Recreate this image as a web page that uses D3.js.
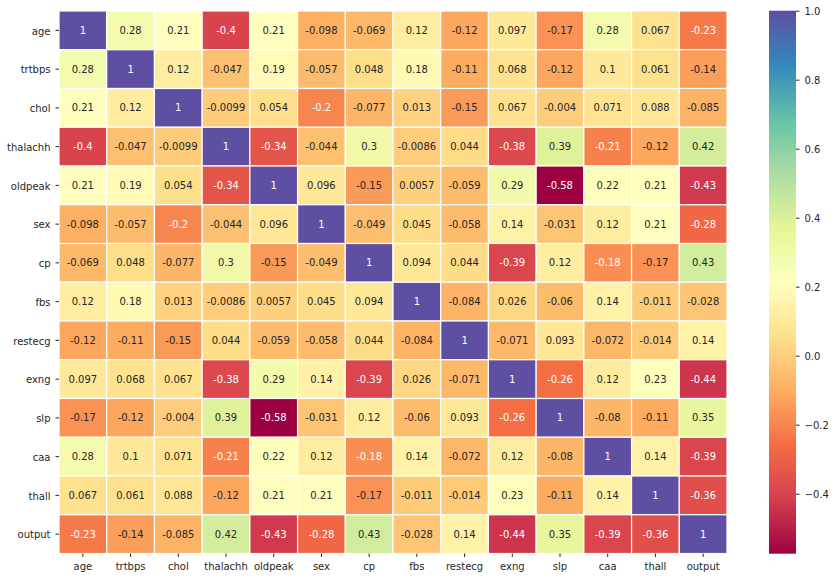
<!DOCTYPE html>
<html>
<head>
<meta charset="utf-8">
<script src="https://cdn.jsdelivr.net/npm/d3@7"></script>
<style>
  html, body { margin: 0; padding: 0; background: #fff; }
  svg { display: block; }
  text { font-family: "DejaVu Sans", sans-serif; font-size: 10px; }
</style>
</head>
<body>
<div id="vis-container"></div>
<script>
/* CHART */

const labels = ["age", "trtbps", "chol", "thalachh", "oldpeak", "sex", "cp", "fbs", "restecg", "exng", "slp", "caa", "thall", "output"];

const age      = [1, 0.28, 0.21, -0.4, 0.21, -0.098, -0.069, 0.12, -0.12, 0.097, -0.17, 0.28, 0.067, -0.23];
const trtbps   = [0.28, 1, 0.12, -0.047, 0.19, -0.057, 0.048, 0.18, -0.11, 0.068, -0.12, 0.1, 0.061, -0.14];
const chol     = [0.21, 0.12, 1, -0.0099, 0.054, -0.2, -0.077, 0.013, -0.15, 0.067, -0.004, 0.071, 0.088, -0.085];
const thalachh = [-0.4, -0.047, -0.0099, 1, -0.34, -0.044, 0.3, -0.0086, 0.044, -0.38, 0.39, -0.21, -0.12, 0.42];
const oldpeak  = [0.21, 0.19, 0.054, -0.34, 1, 0.096, -0.15, 0.0057, -0.059, 0.29, -0.58, 0.22, 0.21, -0.43];
const sex      = [-0.098, -0.057, -0.2, -0.044, 0.096, 1, -0.049, 0.045, -0.058, 0.14, -0.031, 0.12, 0.21, -0.28];
const cp       = [-0.069, 0.048, -0.077, 0.3, -0.15, -0.049, 1, 0.094, 0.044, -0.39, 0.12, -0.18, -0.17, 0.43];
const fbs      = [0.12, 0.18, 0.013, -0.0086, 0.0057, 0.045, 0.094, 1, -0.084, 0.026, -0.06, 0.14, -0.011, -0.028];
const restecg  = [-0.12, -0.11, -0.15, 0.044, -0.059, -0.058, 0.044, -0.084, 1, -0.071, 0.093, -0.072, -0.014, 0.14];
const exng     = [0.097, 0.068, 0.067, -0.38, 0.29, 0.14, -0.39, 0.026, -0.071, 1, -0.26, 0.12, 0.23, -0.44];
const slp      = [-0.17, -0.12, -0.004, 0.39, -0.58, -0.031, 0.12, -0.06, 0.093, -0.26, 1, -0.08, -0.11, 0.35];
const caa      = [0.28, 0.1, 0.071, -0.21, 0.22, 0.12, -0.18, 0.14, -0.072, 0.12, -0.08, 1, 0.14, -0.39];
const thall    = [0.067, 0.061, 0.088, -0.12, 0.21, 0.21, -0.17, -0.011, -0.014, 0.23, -0.11, 0.14, 1, -0.36];
const output   = [-0.23, -0.14, -0.085, 0.42, -0.43, -0.28, 0.43, -0.028, 0.14, -0.44, 0.35, -0.39, -0.36, 1];

const rows = [age, trtbps, chol, thalachh, oldpeak, sex, cp, fbs, restecg, exng, slp, caa, thall, output];

const colorTicks = [-0.4, -0.2, 0, 0.2, 0.4, 0.6, 0.8, 1];
const colorMin = -0.574;
const colorMax = 1;

const width = 835,
	height = 578,
	left = 59,
	right = 727,
	top_ = 11,
	bottom = 553.5,
	barLeft = 769,
	barRight = 796,
	textColor = "#262626";

// same stops as matplotlib's Spectral
const spectral = d3.piecewise(d3.interpolateRgb, d3.schemeSpectral[11]);
const color = d3.scaleSequential(spectral).domain([colorMin, colorMax]);

const x = d3.scaleBand().domain(labels).range([left, right]);
const y = d3.scaleBand().domain(labels).range([top_, bottom]);
const barY = d3.scaleLinear().domain([colorMin, colorMax]).range([553.7, 10.7]);

// seaborn's rule for picking the annotation colour
const luminance = (c) => {
	const rgb = d3.rgb(c);
	const f = (v) => {
		v = v / 255;
		return v <= 0.03928 ? v / 12.92 : Math.pow((v + 0.055) / 1.055, 2.4);
	};
	return 0.2126 * f(rgb.r) + 0.7152 * f(rgb.g) + 0.0722 * f(rgb.b);
};

let svg = d3.select("#vis-container")
	.append("svg")
	.attr("width", width)
	.attr("height", height);

let cells = rows.flatMap((row, i) => row.map((v, j) => ({ rowName: labels[i], colName: labels[j], value: v })));

svg.append("g").selectAll("rect")
	.data(cells)
	.join("rect")
	.attr("x", d => x(d.colName))
	.attr("y", d => y(d.rowName))
	.attr("width", x.bandwidth())
	.attr("height", y.bandwidth())
	.attr("fill", d => color(d.value))
	.attr("stroke", "#fff")
	.attr("stroke-width", 1.2);

svg.append("g").selectAll("text")
	.data(cells)
	.join("text")
	.attr("x", d => x(d.colName) + x.bandwidth() / 2)
	.attr("y", d => y(d.rowName) + y.bandwidth() / 2)
	.attr("dy", "0.35em")
	.attr("text-anchor", "middle")
	.attr("fill", d => luminance(color(d.value)) < 0.408 ? "#fff" : textColor)
	.text(d => String(d.value));

const styleAxis = (g) => {
	g.select(".domain").remove();
	g.selectAll("line").attr("stroke", textColor).attr("stroke-width", 1);
	g.selectAll("text").attr("fill", textColor);
};

svg.append("g")
	.attr("transform", `translate(0,${bottom})`)
	.call(d3.axisBottom(x).tickSize(3.5).tickPadding(6))
	.call(styleAxis);

svg.append("g")
	.attr("transform", `translate(${left},0)`)
	.call(d3.axisLeft(y).tickSize(3.5).tickPadding(5))
	.call(styleAxis)
	.selectAll("text").attr("dy", "0.42em");

// colorbar
let gradient = svg.append("defs").append("linearGradient")
	.attr("id", "bar-gradient")
	.attr("x1", 0).attr("y1", 1)
	.attr("x2", 0).attr("y2", 0);

gradient.selectAll("stop")
	.data(d3.schemeSpectral[11])
	.join("stop")
	.attr("offset", (d, i) => i / 10)
	.attr("stop-color", d => d);

svg.append("rect")
	.attr("x", barLeft)
	.attr("y", barY(colorMax))
	.attr("width", barRight - barLeft)
	.attr("height", barY(colorMin) - barY(colorMax))
	.attr("fill", "url(#bar-gradient)");

svg.append("g")
	.attr("transform", `translate(${barRight},0)`)
	.call(d3.axisRight(barY).tickValues(colorTicks).tickFormat(d => d3.format(".1f")(d).replace("-", "\u2212")).tickSize(3.5).tickPadding(5))
	.call(styleAxis)
	.selectAll("text").attr("dy", "0.42em");
</script>
</body>
</html>
